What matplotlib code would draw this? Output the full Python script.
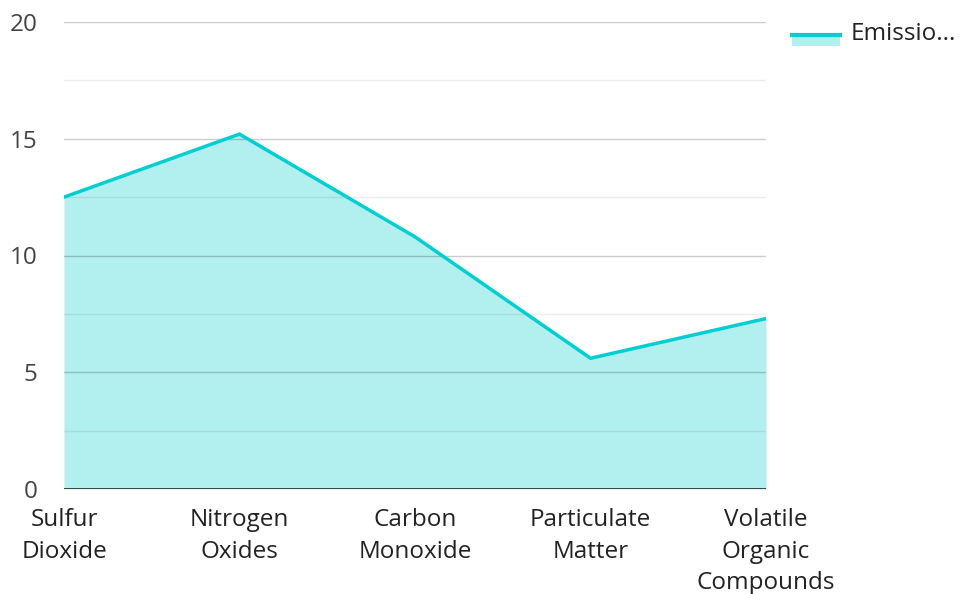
import matplotlib
matplotlib.use('Agg')
import numpy as np
from matplotlib import pyplot as plt
from matplotlib.patches import Rectangle
from matplotlib.lines import Line2D

plt.rcParams['font.family'] = ['Open Sans', 'DejaVu Sans']

categories = ['Sulfur\nDioxide', 'Nitrogen\nOxides', 'Carbon\nMonoxide',
              'Particulate\nMatter', 'Volatile\nOrganic\nCompounds']
emissions = [12.5, 15.2, 10.8, 5.6, 7.3]
legend_label = 'Emissio...'

line_color = '#00CED1'
fill_color = '#B2EFEF'
fs = 17.5

fig = plt.figure(figsize=(9.6, 5.94), dpi=100)
ax = fig.add_axes([64 / 960, 1 - 489 / 594, (766 - 64) / 960, (489 - 22) / 594])

x = np.arange(len(categories))
ax.fill_between(x, emissions, 0, color=fill_color, lw=0, zorder=1)
ax.plot(x, emissions, color=line_color, lw=2.5, zorder=3)

# gridlines on top of the fill (visible through it)
for v in np.arange(2.5, 20.01, 2.5):
    major = (v % 5 == 0)
    ax.axhline(v, color='#000000', alpha=0.2 if major else 0.08, lw=1, zorder=2)

ax.axhline(0, color='#333333', lw=2, zorder=4)

ax.set_xlim(0, len(categories) - 1)
ax.set_ylim(0, 20)
ax.set_yticks([0, 5, 10, 15, 20])
ax.set_xticks(x)
ax.set_xticklabels(categories, fontsize=fs, color='#222222', linespacing=1.4)
ax.tick_params(axis='y', length=0, labelsize=fs, labelcolor='#444444', pad=19)
ax.tick_params(axis='x', length=0, pad=14)
for s in ax.spines.values():
    s.set_visible(False)

# legend
fig.patches.append(Rectangle((792 / 960, 1 - 46 / 594), 48 / 960, 12 / 594,
                             transform=fig.transFigure, color=fill_color, lw=0))
fig.lines.append(Line2D([792 / 960, 840 / 960], [1 - 35 / 594, 1 - 35 / 594],
                        transform=fig.transFigure, color=line_color, lw=3))
fig.text(851 / 960, 1 - 34 / 594, legend_label, fontsize=fs, color='#222222', va='center')

fig.savefig('out.png', dpi=100)
